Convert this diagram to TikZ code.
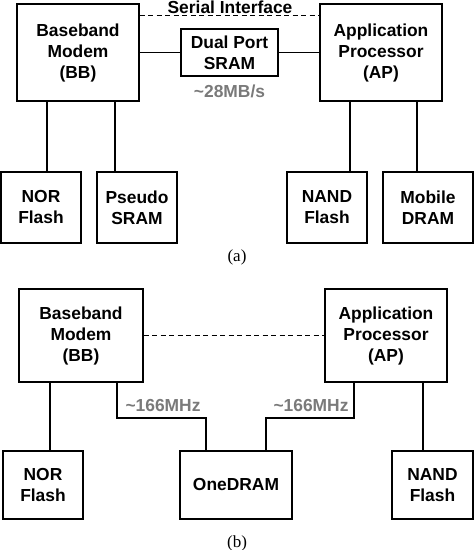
\documentclass[tikz,border=0pt]{standalone}
\usepackage{fontspec}
\setmainfont{Liberation Serif}
\setsansfont{Liberation Sans}
\usepackage{tikz}
\usetikzlibrary{calc}
\usetikzlibrary{shapes}
\definecolor{labelgray}{RGB}{122,122,122}

\begin{document}
\begin{tikzpicture}[x=1pt, y=-1pt, line width=1.4pt,
  block/.style={draw, align=center, inner sep=0pt, font=\sffamily\bfseries\fontsize{17.4}{21}\selectfont},
  link/.style={draw},
  serial/.style={draw, dash pattern=on 5pt off 3.5pt},
  rate/.style={text=labelgray, inner sep=0pt, font=\sffamily\bfseries\fontsize{17.4}{21}\selectfont},
  caption/.style={inner sep=0pt, font=\fontsize{17}{20}\selectfont}]
  \useasboundingbox (0,0) rectangle (474,550);

  \node[name=bba, block, minimum width=122pt, minimum height=97pt] at (78,52.5) {Baseband\\Modem\\(BB)};
  \node[name=apa, block, minimum width=122pt, minimum height=97pt] at (381,52.5) {Application\\Processor\\(AP)};
  \node[name=dps, block, minimum width=97pt, minimum height=47pt] at (229.5,52.5) {Dual Port\\SRAM};
  \node[name=nora, block, minimum width=80pt, minimum height=71pt] at (41,207.5) {NOR\\Flash};
  \node[name=psr, block, minimum width=80pt, minimum height=71pt] at (137,207.5) {Pseudo\\SRAM};
  \node[name=nanda, block, minimum width=80pt, minimum height=71pt] at (327,207.5) {NAND\\Flash};
  \node[name=mdr, block, minimum width=90pt, minimum height=71pt] at (428,207.5) {Mobile\\DRAM};
  \node[name=sif, rate, text=black] at (230,7) {Serial Interface};
  \node[name=mbs, rate] at (229.5,91) {\char`~28MB/s};
  \node[name=capa, caption] at (237,257) {(a)};

  \draw[serial] ($(bba.north east)+(0,12)$) -- ($(apa.north west)+(0,12)$);
  \draw[link] (bba.east |- dps.west) -- (dps.west);
  \draw[link] (dps.east) -- (apa.west |- dps.east);
  \draw[link] (bba.south -| 47,0) -- (nora.north -| 47,0);
  \draw[link] (bba.south -| 115,0) -- (psr.north -| 115,0);
  \draw[link] (apa.south -| 350,0) -- (nanda.north -| 350,0);
  \draw[link] (apa.south -| 417,0) -- (mdr.north -| 417,0);

  \node[name=bbb, block, minimum width=124pt, minimum height=93pt] at (81,335.5) {Baseband\\Modem\\(BB)};
  \node[name=apb, block, minimum width=122pt, minimum height=93pt] at (386,335.5) {Application\\Processor\\(AP)};
  \node[name=norb, block, minimum width=80pt, minimum height=68pt] at (43,485) {NOR\\Flash};
  \node[name=odr, block, minimum width=112pt, minimum height=68pt] at (236,485) {OneDRAM};
  \node[name=nandb, block, minimum width=81pt, minimum height=68pt] at (432.5,485) {NAND\\Flash};
  \node[name=fl, rate] at (163,406) {\char`~166MHz};
  \node[name=fr, rate] at (311,406) {\char`~166MHz};
  \node[name=capb, caption] at (237,543) {(b)};

  \draw[serial] (bbb.east) -- (apb.west);
  \draw[link] (bbb.south -| 50,0) -- (norb.north -| 50,0);
  \draw[link] (bbb.south -| 117,0) -- (117,418) -- (206,418) -- (odr.north -| 206,0);
  \draw[link] (apb.south -| 354,0) -- (354,418) -- (266,418) -- (odr.north -| 266,0);
  \draw[link] (apb.south -| 423,0) -- (nandb.north -| 423,0);

\end{tikzpicture}
\end{document}
